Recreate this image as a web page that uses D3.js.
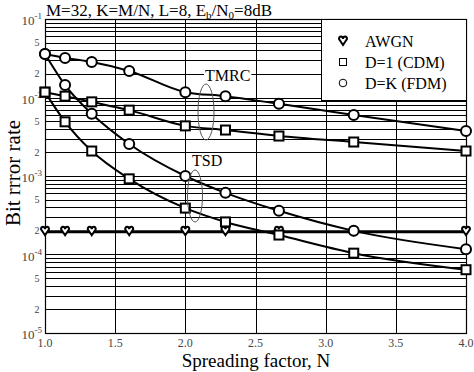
<!DOCTYPE html>
<html lang="en">
<head>
<meta charset="UTF-8">
<title>BER vs spreading factor</title>
<script src="https://cdn.jsdelivr.net/npm/d3@7"></script>
<style>
    body { margin: 0; padding: 0; background: #fff; }
    text { font-family: "Liberation Serif", "DejaVu Serif", "Times New Roman", serif; }
</style>
</head>
<body>
<svg width="474" height="372" id="mainsvg"></svg>
<script>
    // spreading factor N = M/K, M = 32
    const nValues = [1.0, 1.143, 1.333, 1.6, 2.0, 2.286, 2.667, 3.2, 4.0];
    const awgn = [1.95e-4, 1.95e-4, 1.95e-4, 1.95e-4, 1.95e-4, 1.95e-4, 1.95e-4, 1.95e-4, 1.95e-4];
    const tmrcFdm = [3.58e-2, 3.19e-2, 2.83e-2, 2.18e-2, 1.17e-2, 1.04e-2, 8.3e-3, 6.0e-3, 3.75e-3];
    const tmrcCdm = [1.17e-2, 1.04e-2, 8.8e-3, 6.9e-3, 4.35e-3, 3.85e-3, 3.23e-3, 2.71e-3, 2.08e-3];
    const tsdFdm = [3.58e-2, 1.44e-2, 6.2e-3, 2.56e-3, 1.0e-3, 6.1e-4, 3.6e-4, 2.0e-4, 1.17e-4];
    const tsdCdm = [1.17e-2, 4.9e-3, 2.08e-3, 9.2e-4, 3.9e-4, 2.6e-4, 1.77e-4, 1.04e-4, 6.4e-5];
    const xTicks = [1.0, 1.5, 2.0, 2.5, 3.0, 3.5, 4.0];
    const decades = [-1, -2, -3, -4, -5];
    const legendLabels = ["AWGN", "D=1 (CDM)", "D=K (FDM)"];

    const svg = d3.select("#mainsvg");
    const pLeft = 45, pRight = 466, pTop = 19, pBottom = 333;

    const x = d3.scaleLinear().domain([1, 4]).range([pLeft, pRight]);
    const y = d3.scaleLog().domain([1e-5, 1e-1]).range([pBottom, pTop]);

    // grid
    let gridVals = [];
    for (let e = -5; e < -1; ++e) {
        for (let m = 1; m < 10; ++m) gridVals.push(m * Math.pow(10, e));
    }
    svg.append("g").selectAll("line").data(gridVals).enter().append("line")
        .attr("x1", pLeft).attr("x2", pRight)
        .attr("y1", d => Math.round(y(d)) + 0.5).attr("y2", d => Math.round(y(d)) + 0.5)
        .attr("stroke", "#000").attr("stroke-width", 1);
    svg.append("g").selectAll("line").data(xTicks.slice(1, -1)).enter().append("line")
        .attr("x1", d => Math.round(x(d)) + 0.5).attr("x2", d => Math.round(x(d)) + 0.5)
        .attr("y1", pTop).attr("y2", pBottom)
        .attr("stroke", "#000").attr("stroke-width", 1);
    svg.append("rect")
        .attr("x", pLeft + 0.5).attr("y", pTop + 0.5)
        .attr("width", pRight - pLeft).attr("height", pBottom - pTop)
        .attr("fill", "none").attr("stroke", "#000").attr("stroke-width", 1.2);

    // x tick labels
    svg.append("g").selectAll("text").data(xTicks).enter().append("text")
        .attr("x", d => x(d)).attr("y", pBottom + 14)
        .attr("text-anchor", "middle").attr("font-size", 12).attr("fill", "#444")
        .text(d => d.toFixed(1));

    // y tick labels
    const yl = svg.append("g");
    decades.forEach(e => {
        let t = yl.append("text")
            .attr("x", pLeft - 3).attr("y", y(Math.pow(10, e)) + 6)
            .attr("text-anchor", "end").attr("fill", "#444").attr("font-size", 13);
        t.append("tspan").text("10");
        t.append("tspan").attr("dy", -6).attr("font-size", 9).text(String(e));
        if (e > -5) {
            [2, 5].forEach(m => {
                yl.append("text")
                    .attr("x", pLeft - 8).attr("y", y(m * Math.pow(10, e - 1)) + 3.5)
                    .attr("text-anchor", "middle").attr("fill", "#444").attr("font-size", 10)
                    .text(m);
            });
        }
    });

    // titles
    const title = svg.append("text").attr("x", 46).attr("y", 15.5).attr("font-size", 17);
    title.append("tspan").text("M=32, K=M/N, L=8, E");
    title.append("tspan").attr("font-size", 11).attr("dy", 3).text("b");
    title.append("tspan").attr("dy", -3).text("/N");
    title.append("tspan").attr("font-size", 11).attr("dy", 3).text("0");
    title.append("tspan").attr("dy", -3).text("=8dB");

    svg.append("text").attr("x", 256).attr("y", 367)
        .attr("text-anchor", "middle").attr("font-size", 19)
        .text("Spreading factor, N");
    svg.append("text")
        .attr("transform", "translate(20,173) rotate(-90)")
        .attr("text-anchor", "middle").attr("font-size", 21)
        .text("Bit rrror rate");

    // curves
    const line = d3.line()
        .x((d, i) => x(nValues[i]))
        .y(d => y(d))
        .curve(d3.curveMonotoneX);
    [tmrcFdm, tmrcCdm, tsdFdm, tsdCdm].forEach(s => {
        svg.append("path").attr("d", line(s))
            .attr("fill", "none").attr("stroke", "#000").attr("stroke-width", 2);
    });
    svg.append("path").attr("d", line(awgn))
        .attr("fill", "none").attr("stroke", "#000").attr("stroke-width", 3);

    // markers
    const heart = "M-4,-2.5 Q-4,-5 -2,-5 Q0,-5 0,-2.5 Q0,-5 2,-5 Q4,-5 4,-2.5 L0,3.5 Z";
    function squares(s, size, sw) {
        svg.append("g").selectAll("rect").data(s).enter().append("rect")
            .attr("x", (d, i) => x(nValues[i]) - size / 2)
            .attr("y", d => y(d) - size / 2)
            .attr("width", size).attr("height", size)
            .attr("fill", "#fff").attr("stroke", "#000").attr("stroke-width", sw);
    }
    function circles(s, r, sw) {
        svg.append("g").selectAll("circle").data(s).enter().append("circle")
            .attr("cx", (d, i) => x(nValues[i]))
            .attr("cy", d => y(d))
            .attr("r", r)
            .attr("fill", "#fff").attr("stroke", "#000").attr("stroke-width", sw);
    }
    svg.append("g").selectAll("path").data(awgn).enter().append("path")
        .attr("d", heart)
        .attr("transform", (d, i) => "translate(" + x(nValues[i]) + "," + y(d) + ")")
        .attr("fill", "#fff").attr("stroke", "#000").attr("stroke-width", 2);
    squares(tmrcCdm, 9, 2);
    squares(tsdCdm, 9, 2);
    circles(tmrcFdm, 5, 2);
    circles(tsdFdm, 5, 2);

    // group annotations
    svg.append("ellipse").attr("cx", 206).attr("cy", 112).attr("rx", 8).attr("ry", 28)
        .attr("fill", "none").attr("stroke", "#555").attr("stroke-width", 1);
    svg.append("ellipse").attr("cx", 195).attr("cy", 196).attr("rx", 7.5).attr("ry", 26)
        .attr("fill", "none").attr("stroke", "#555").attr("stroke-width", 1);
    [["TMRC", 205, 81], ["TSD", 192, 166]].forEach(a => {
        let t = svg.append("text").attr("x", a[1]).attr("y", a[2])
            .attr("font-size", 16).text(a[0]);
        let b = t.node().getBBox();
        svg.insert("rect", function() { return t.node(); })
            .attr("x", b.x - 1).attr("y", b.y + 2)
            .attr("width", b.width + 2).attr("height", b.height - 4)
            .attr("fill", "#fff");
    });

    // legend
    const lg = svg.append("g");
    lg.append("rect").attr("x", 321.5).attr("y", pTop + 0.5)
        .attr("width", pRight - 321).attr("height", 81)
        .attr("fill", "#fff").attr("stroke", "#000").attr("stroke-width", 1);
    legendLabels.forEach((lab, i) => {
        let cy = 41 + i * 21;
        if (i === 0) {
            lg.append("path").attr("d", heart)
                .attr("transform", "translate(343," + (cy + 0.5) + ")")
                .attr("fill", "#fff").attr("stroke", "#000").attr("stroke-width", 2);
        } else if (i === 1) {
            lg.append("rect").attr("x", 339.5).attr("y", cy - 3.5)
                .attr("width", 7).attr("height", 7)
                .attr("fill", "#fff").attr("stroke", "#000").attr("stroke-width", 1);
        } else {
            lg.append("circle").attr("cx", 343).attr("cy", cy).attr("r", 3.8)
                .attr("fill", "#fff").attr("stroke", "#000").attr("stroke-width", 1);
        }
        lg.append("text").attr("x", 365).attr("y", cy + 6)
            .attr("font-size", 16).text(lab);
    });
</script>
</body>
</html>
